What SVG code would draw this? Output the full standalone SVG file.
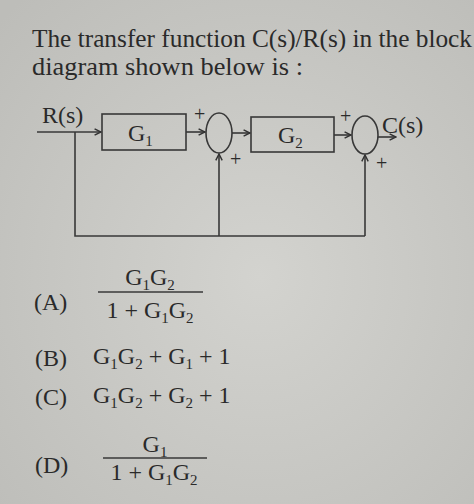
<svg xmlns="http://www.w3.org/2000/svg" width="474" height="504" viewBox="0 0 474 504">
  <defs>
    <radialGradient id="bg" cx="55%" cy="55%" r="75%">
      <stop offset="0" stop-color="#d3d3cf"/>
      <stop offset="1" stop-color="#bdbdb9"/>
    </radialGradient>
    <marker id="arr" viewBox="0 0 10 10" refX="9" refY="5" markerWidth="8" markerHeight="8" markerUnits="userSpaceOnUse" orient="auto">
      <path d="M1,1 L9,5 L1,9" fill="none" stroke="#333" stroke-width="1.8"/>
    </marker>
  </defs>
  <style>
    text { font-family: "Liberation Serif", "DejaVu Serif", serif; fill: #2a2a2a; }
    .t { font-size: 25px; }
    .lbl { font-size: 24px; }
    .pl { font-size: 20px; }
    .sub { font-size: 15px; }
    .box { fill: none; stroke: #383838; stroke-width: 1.6; }
    .ln { fill: none; stroke: #383838; stroke-width: 1.6; }
  </style>
  <rect width="474" height="504" fill="url(#bg)"/>

  <g id="title">
    <text class="t" x="32" y="47" textLength="440" lengthAdjust="spacingAndGlyphs">The transfer function C(s)/R(s) in the block</text>
    <text class="t" x="32" y="75" textLength="271" lengthAdjust="spacingAndGlyphs">diagram shown below is :</text>
  </g>

  <g id="input-label">
    <text class="lbl" x="42" y="123">R(s)</text>
  </g>

  <g id="G1">
    <rect class="box" x="102" y="114" width="84" height="36"/>
    <text class="lbl" x="128" y="141">G<tspan class="sub" dy="5">1</tspan></text>
  </g>

  <g id="sum1">
    <ellipse class="box" cx="219" cy="133" rx="13" ry="20"/>
    <text class="pl" x="194" y="121">+</text>
    <text class="pl" x="230" y="166">+</text>
  </g>

  <g id="G2">
    <rect class="box" x="251" y="117" width="83" height="35"/>
    <text class="lbl" x="278" y="143">G<tspan class="sub" dy="5">2</tspan></text>
  </g>

  <g id="sum2">
    <ellipse class="box" cx="365" cy="135" rx="13" ry="19"/>
    <text class="pl" x="340" y="123">+</text>
    <text class="pl" x="376" y="170">+</text>
  </g>

  <g id="output-label">
    <text class="lbl" x="382" y="133">C(s)</text>
  </g>

  <g id="connectors">
    <line class="ln" x1="37" y1="132" x2="101" y2="132" marker-end="url(#arr)"/>
    <line class="ln" x1="186" y1="132" x2="205" y2="132" marker-end="url(#arr)"/>
    <line class="ln" x1="232" y1="133" x2="250" y2="133" marker-end="url(#arr)"/>
    <line class="ln" x1="334" y1="135" x2="351" y2="135" marker-end="url(#arr)"/>
    <line class="ln" x1="378" y1="137" x2="396" y2="137" marker-end="url(#arr)"/>
    <polyline class="ln" points="75,132 75,236 365,236"/>
    <line class="ln" x1="219" y1="236" x2="219" y2="154" marker-end="url(#arr)"/>
    <line class="ln" x1="365" y1="236" x2="365" y2="155" marker-end="url(#arr)"/>
  </g>

  <g id="optionA">
    <text class="lbl" x="34" y="310">(A)</text>
    <text class="lbl" x="150" y="285" text-anchor="middle">G<tspan class="sub" dy="5">1</tspan><tspan dy="-5">G</tspan><tspan class="sub" dy="5">2</tspan></text>
    <line class="ln" x1="98" y1="292" x2="203" y2="292"/>
    <text class="lbl" x="150" y="318" text-anchor="middle">1 + G<tspan class="sub" dy="5">1</tspan><tspan dy="-5">G</tspan><tspan class="sub" dy="5">2</tspan></text>
  </g>

  <g id="optionB">
    <text class="lbl" x="35" y="366">(B)</text>
    <text class="lbl" x="93" y="364">G<tspan class="sub" dy="5">1</tspan><tspan dy="-5">G</tspan><tspan class="sub" dy="5">2</tspan><tspan dy="-5"> + G</tspan><tspan class="sub" dy="5">1</tspan><tspan dy="-5"> + 1</tspan></text>
  </g>

  <g id="optionC">
    <text class="lbl" x="35" y="405">(C)</text>
    <text class="lbl" x="93" y="403">G<tspan class="sub" dy="5">1</tspan><tspan dy="-5">G</tspan><tspan class="sub" dy="5">2</tspan><tspan dy="-5"> + G</tspan><tspan class="sub" dy="5">2</tspan><tspan dy="-5"> + 1</tspan></text>
  </g>

  <g id="optionD">
    <text class="lbl" x="35" y="473">(D)</text>
    <text class="lbl" x="155" y="452" text-anchor="middle">G<tspan class="sub" dy="5">1</tspan></text>
    <line class="ln" x1="103" y1="458" x2="207" y2="458"/>
    <text class="lbl" x="154" y="480" text-anchor="middle">1 + G<tspan class="sub" dy="5">1</tspan><tspan dy="-5">G</tspan><tspan class="sub" dy="5">2</tspan></text>
  </g>
</svg>
